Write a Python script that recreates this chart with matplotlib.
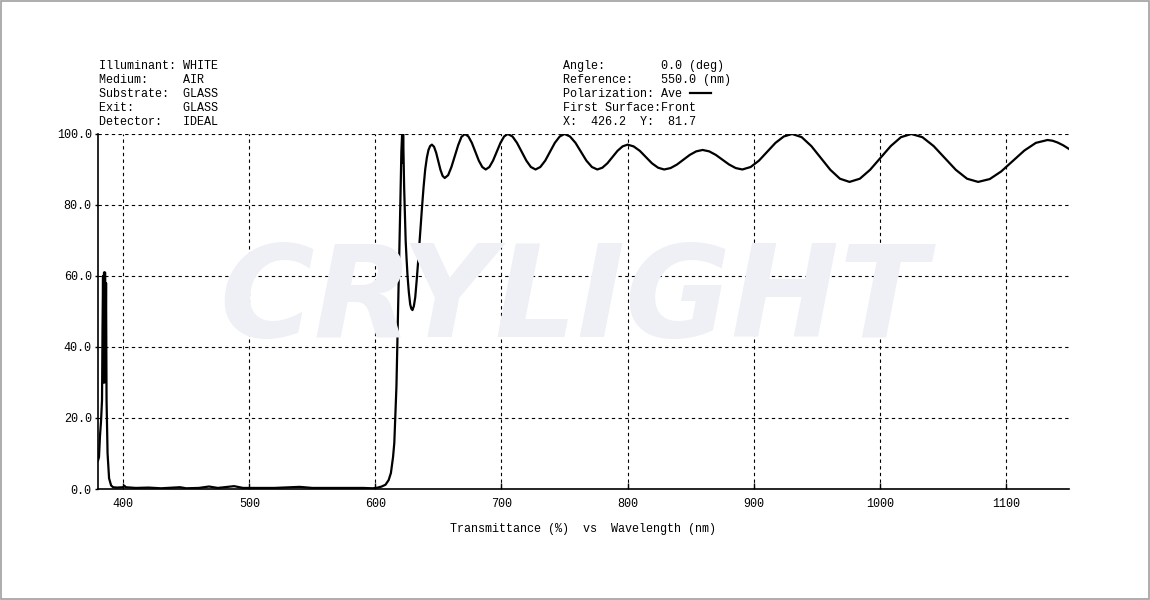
import matplotlib
matplotlib.use("Agg")
import matplotlib.pyplot as plt
from matplotlib.lines import Line2D
from matplotlib.patches import Rectangle

# transmittance curve
wavelength = [380, 380.8, 381.6, 382.4, 383.2, 383.6, 384.0, 384.4, 384.8, 385.2,
              385.6, 386.0, 386.4, 386.8, 387.6, 388.8, 390.4, 392, 395, 400,
              401, 402, 410, 420, 430, 445, 450, 460, 468, 475,
              488, 495, 520, 540, 550, 570, 590, 598, 602, 605,
              608, 610.5, 612.3, 614, 615, 616.7, 618.3, 619.7, 620.6, 621.2,
              621.6, 622.0, 622.8, 623.4, 624, 624.7, 625.5, 626.5, 627.6, 628.5,
              629.4, 630.5, 631.6, 632.8, 634.1, 635.5, 636.9, 638.2, 639.5, 640.8,
              642.1, 643.4, 644.8, 646.5, 648.2, 649.9, 651.6, 653.3, 655, 657.7,
              660.3, 663, 665.7, 668.3, 671, 673.75, 676.5, 679.25, 682, 684.75,
              687.5, 690.4, 693.3, 696.25, 699.2, 702.1, 705, 708.7, 712.3, 716,
              719.7, 723.3, 727, 730.8, 734.7, 738.5, 742.3, 746.2, 750, 754.3,
              758.7, 763, 767.3, 771.7, 776, 780, 784, 788, 792, 796,
              800, 804.8, 809.7, 814.5, 819.3, 824.2, 829, 834.1, 839.2, 844.25,
              849.3, 854.4, 859.5, 864.75, 870, 875.25, 880.5, 885.75, 891, 897.6,
              904.2, 910.75, 917.3, 923.9, 930.5, 938.1, 945.7, 953.25, 960.8, 968.4,
              976, 984.2, 992.3, 1000.5, 1008.7, 1016.8, 1025, 1033.8, 1042.7, 1051.5,
              1060.3, 1069.2, 1078, 1087.2, 1096.3, 1105.5, 1114.7, 1123.8, 1133, 1137,
              1141, 1145.5, 1150]
transmittance = [8, 9, 15, 19, 25, 45, 60, 30, 61, 30,
                 61, 35, 58, 25, 10, 3, 1, 0.5, 0.4, 0.5,
                 0.9, 0.5, 0.3, 0.4, 0.2, 0.5, 0.2, 0.3, 0.7, 0.3,
                 0.8, 0.3, 0.3, 0.6, 0.3, 0.3, 0.3, 0.2, 0.4, 0.7,
                 1.2, 2.5, 4.5, 9, 13, 29, 55, 79, 95, 100,
                 92, 100, 85, 77, 70, 65, 60, 55.5, 52, 50.8,
                 50.4, 51.5, 54, 59, 65, 72, 79, 85, 90, 93.3,
                 95.5, 96.6, 97, 96.4, 94.7, 92.3, 89.9, 88.2, 87.6, 88.4,
                 90.7, 93.8, 96.9, 99.2, 100, 99.3, 97.5, 95, 92.5, 90.7,
                 90, 90.7, 92.5, 95, 97.5, 99.3, 100, 99.3, 97.5, 95,
                 92.5, 90.7, 90, 90.7, 92.5, 95, 97.5, 99.3, 100, 99.3,
                 97.5, 95, 92.5, 90.7, 90, 90.5, 91.75, 93.5, 95.25, 96.5,
                 97, 96.5, 95.25, 93.5, 91.75, 90.5, 90, 90.4, 91.4, 92.75,
                 94.1, 95.1, 95.5, 95.1, 94.1, 92.75, 91.4, 90.4, 90, 90.7,
                 92.5, 95, 97.5, 99.3, 100, 99.1, 96.6, 93.25, 89.9, 87.4,
                 86.5, 87.4, 89.9, 93.25, 96.6, 99.1, 100, 99.1, 96.6, 93.25,
                 89.9, 87.4, 86.5, 87.3, 89.45, 92.4, 95.35, 97.5, 98.3, 98.1,
                 97.6, 96.8, 95.8]

x_ticks = [400, 500, 600, 700, 800, 900, 1000, 1100]
y_ticks = [0, 20, 40, 60, 80, 100]

left_info = ["Illuminant: WHITE",
             "Medium:     AIR",
             "Substrate:  GLASS",
             "Exit:       GLASS",
             "Detector:   IDEAL"]
right_info = ["Angle:        0.0 (deg)",
              "Reference:    550.0 (nm)",
              "Polarization: Ave",
              "First Surface:Front",
              "X:  426.2  Y:  81.7"]

mono = "Liberation Mono"
fs = 8.5

fig = plt.figure(figsize=(11.5, 6), dpi=100)
fig.patch.set_facecolor("white")
fig.add_artist(Rectangle((0.0005, 0.001), 0.9985, 0.997, transform=fig.transFigure,
                         fill=False, edgecolor="#a0a0a0", linewidth=1.2))

# watermark
fig.text(0.499, 0.497, "CRYLIGHT", fontsize=93, fontweight="bold", fontstyle="italic",
         color="#eef0f6", ha="center", va="center", family="DejaVu Sans", zorder=0)

ax = fig.add_axes([0.0852, 0.185, 0.8443, 0.5917])
ax.patch.set_alpha(0)
ax.plot(wavelength, transmittance, color="black", linewidth=1.6, zorder=3)

ax.set_xlim(380, 1150)
ax.set_ylim(0, 100)
ax.set_xticks(x_ticks)
ax.set_yticks(y_ticks)
ax.set_xticklabels([str(v) for v in x_ticks], family=mono, fontsize=fs)
ax.set_yticklabels(["%.1f" % v for v in y_ticks], family=mono, fontsize=fs)
ax.tick_params(axis="x", direction="in", length=4, width=1, pad=6.5)
ax.tick_params(axis="y", direction="out", length=2, width=1, pad=2.5)
ax.grid(True, color="black", linestyle=(0, (3, 3)), linewidth=0.8)
for s in ["top", "right"]:
    ax.spines[s].set_visible(False)
for s in ["left", "bottom"]:
    ax.spines[s].set_linewidth(1.2)

ax.set_xlabel("Transmittance (%)  vs  Wavelength (nm)", family=mono, fontsize=fs, labelpad=9)

for i, line in enumerate(left_info):
    fig.text(0.086, 0.89 - i * 0.0233, line, family=mono, fontsize=fs, va="center", ha="left")
for i, line in enumerate(right_info):
    fig.text(0.4896, 0.89 - i * 0.0233, line, family=mono, fontsize=fs, va="center", ha="left")
fig.add_artist(Line2D([0.600, 0.618], [0.89 - 2 * 0.0233 + 0.002] * 2, transform=fig.transFigure,
                      color="black", linewidth=1.6))

fig.savefig("out.png", dpi=100)
